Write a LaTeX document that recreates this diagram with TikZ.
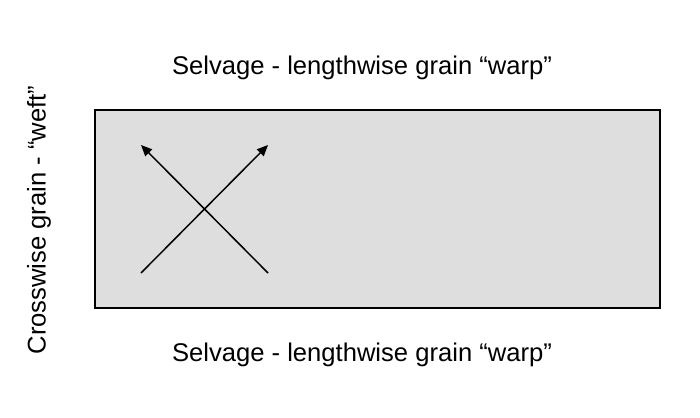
\documentclass[tikz,border=0pt]{standalone}
\usepackage{fontspec}
\setmainfont{Liberation Sans}
\usetikzlibrary{positioning, arrows.meta}
\definecolor{clothgray}{HTML}{DEDEDE}
\tikzset{
   fabric/.style={
     draw=black, fill=clothgray, line width=1.4pt
   },
   grainlabel/.style={
     font=\fontsize{25.6}{30}\selectfont
   },
   grainline/.style={-{Triangle[length=11pt,width=9.5pt]}, line width=1.5pt}
}
\begin{document}
\begin{tikzpicture}[x=1pt,y=1pt]
            \useasboundingbox (0,0) rectangle (700,417);
            \node[fabric, minimum width=565pt, minimum height=198pt](cloth) at (377.5,208) {};
            \node[grainlabel](top) at (362,349) {Selvage - lengthwise grain “warp”};
            \node[grainlabel](bottom) at (362,62) {Selvage - lengthwise grain “warp”};
            \node[grainlabel, rotate=90](side) at (39,197) {Crosswise grain - “weft”};

            \coordinate (lowleft) at (141,144);
            \coordinate (lowright) at (268,144);
            \coordinate (upleft) at (141,272);
            \coordinate (upright) at (268,272);
            \draw[grainline] (lowleft) -- (upright);
            \draw[grainline] (lowright) -- (upleft);
         \end{tikzpicture}
\end{document}
